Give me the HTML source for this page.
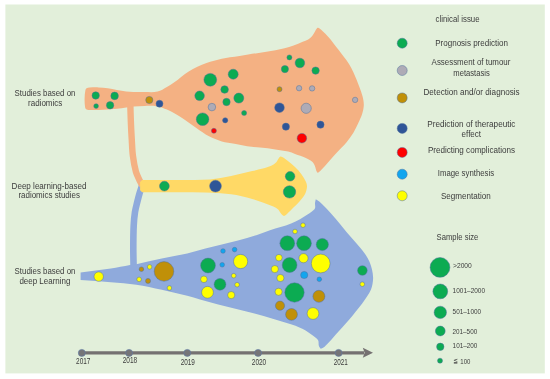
<!DOCTYPE html>
<html><head><meta charset="utf-8"><title>Radiomics and deep learning studies timeline</title>
<style>html,body{margin:0;padding:0;background:#fff}svg{display:block}text{font-family:"Liberation Sans","DejaVu Sans",sans-serif;fill:#3c3c3c}</style></head><body>
<svg width="550" height="379" viewBox="0 0 550 379">
<rect width="550" height="379" fill="#fff"/>
<rect x="5.4" y="4.5" width="539.4" height="368.9" fill="#e2efda"/>
<path d="M142.2,185.0C141.3,187.8 140.3,190.7 139.5,193.5C138.7,196.3 138.0,199.1 137.3,201.9C136.5,205.2 135.5,208.6 135.0,212.0C134.3,216.5 133.9,221.1 133.7,225.6C133.3,233.4 133.3,241.5 133.3,249.4C133.3,255.2 133.5,261.2 133.6,267.0" fill="none" stroke="#8faadc" stroke-width="6.6"/>
<path d="M130.3,104.0C130.5,110.9 130.7,118.1 131.0,125.0C131.2,130.0 131.5,135.1 131.8,140.0C132.1,145.2 132.2,150.6 132.9,155.8C133.6,161.1 134.5,166.5 135.9,171.7C136.6,174.4 138.0,177.0 139.2,179.6C140.1,181.6 141.3,183.6 142.3,185.5" fill="none" stroke="#f4b183" stroke-width="6.4"/>
<path d="M85.4,90.2C85.5,89.5 85.9,88.6 86.5,88.2C87.4,87.7 88.5,87.7 89.5,87.6C92.5,87.4 95.5,87.3 98.5,87.4C101.5,87.5 104.7,87.9 107.7,88.3C113.8,89.2 120.0,90.9 126.2,91.5C132.3,92.1 138.6,92.0 144.7,92.0C149.0,92.0 153.4,92.5 157.6,91.5C160.9,90.7 163.9,88.6 166.9,86.9C169.4,85.5 172.0,84.0 174.3,82.3C179.2,78.8 183.6,74.5 188.7,71.4C194.3,68.1 200.4,65.3 206.5,63.0C211.4,61.1 216.7,59.9 221.8,58.7C224.5,58.1 227.3,57.7 230.0,57.3C233.2,56.8 236.4,56.4 239.6,55.9C242.4,55.5 245.4,54.9 248.2,54.5C254.2,53.6 260.4,52.8 266.4,51.8C272.4,50.8 278.6,49.6 284.5,48.2C287.6,47.5 290.6,46.5 293.6,45.5C296.7,44.4 299.7,43.0 302.7,41.8C304.5,41.1 306.5,40.6 308.2,39.6C309.6,38.8 310.9,37.6 312.0,36.3C313.2,34.9 314.0,33.1 315.0,31.5C315.6,30.6 315.9,29.5 316.6,28.7C317.0,28.3 317.4,27.7 318.0,27.7C318.6,27.7 319.1,28.2 319.6,28.6C320.7,29.4 321.7,30.4 322.7,31.3C324.5,33.0 326.3,34.8 327.9,36.6C329.7,38.6 331.5,40.8 333.2,42.9C335.0,45.1 336.8,47.5 338.5,49.8C340.2,52.1 342.1,54.4 343.8,56.7C345.6,59.1 347.5,61.5 349.0,64.0C350.7,66.8 352.2,69.8 353.6,72.8C355.6,77.2 357.5,81.9 359.2,86.5C360.4,89.8 361.8,93.1 362.6,96.5C363.3,99.2 363.9,102.2 363.8,105.0C363.7,107.9 363.1,110.9 362.2,113.7C361.2,117.0 359.6,120.1 358.2,123.2C356.7,126.4 355.2,129.7 353.4,132.7C351.4,136.0 349.0,139.2 346.6,142.2C345.0,144.2 343.0,146.1 341.2,148.0C339.0,150.3 336.7,152.6 334.6,155.0C332.4,157.5 330.2,160.1 328.0,162.6C325.9,165.0 323.6,167.5 321.4,169.8C320.7,170.6 319.8,171.3 319.0,171.9C318.6,172.2 318.2,172.8 317.7,172.7C317.2,172.6 316.9,172.0 316.7,171.6C316.4,171.1 316.2,170.4 316.0,169.8C315.6,168.5 315.4,167.0 314.8,165.7C314.1,164.3 313.3,162.8 312.2,161.8C310.7,160.4 308.7,159.4 306.9,158.5C304.8,157.4 302.5,156.6 300.3,155.8C298.6,155.1 296.8,154.5 295.0,153.9C292.8,153.1 290.5,152.1 288.2,151.6C284.0,150.6 279.6,150.0 275.4,149.4C270.3,148.7 265.1,148.2 260.0,147.6C255.8,147.1 251.4,146.9 247.2,146.3C243.0,145.7 238.7,144.6 234.5,143.8C230.3,143.0 225.9,142.6 221.8,141.4C217.4,140.1 213.0,138.4 209.0,136.3C204.6,134.0 200.4,130.8 196.3,128.0C192.1,125.1 187.9,121.9 183.6,119.1C180.6,117.1 177.4,115.1 174.3,113.3C171.9,112.0 169.4,110.6 166.9,109.6C163.9,108.4 160.8,106.9 157.6,106.4C153.4,105.7 149.0,105.9 144.7,105.9C141.0,105.9 137.3,106.1 133.6,106.4C131.1,106.6 128.6,107.1 126.2,107.4C123.2,107.8 120.1,108.4 117.0,108.7C110.9,109.3 104.6,109.7 98.5,110.0C95.4,110.1 92.1,110.1 89.0,109.9C88.0,109.8 86.9,109.8 86.1,109.2C85.5,108.8 85.2,107.9 85.1,107.2C84.7,104.4 84.5,101.4 84.6,98.5C84.6,95.7 84.9,92.9 85.4,90.2Z" fill="#f4b183"/>
<path d="M80.6,272.4C90.6,271.1 100.9,270.1 110.9,268.6C117.2,267.7 123.7,266.2 130.0,265.1C132.1,264.7 134.2,264.6 136.3,264.2C144.7,262.5 153.4,260.4 161.8,258.6C170.2,256.8 178.9,255.3 187.2,253.4C193.3,252.0 199.4,250.0 205.4,248.5C210.8,247.1 216.4,245.8 221.8,244.5C227.1,243.2 232.7,241.9 238.0,240.5C244.1,238.9 250.3,237.1 256.3,235.2C260.9,233.7 265.5,231.8 270.0,230.3C273.5,229.1 277.1,228.1 280.6,227.0C284.1,225.9 287.7,224.8 291.1,223.4C294.1,222.2 297.1,220.8 300.0,219.3C302.2,218.1 304.2,216.7 306.3,215.3C308.2,214.1 310.2,212.8 311.9,211.4C313.0,210.5 314.5,209.6 315.0,208.2C315.6,206.6 314.8,204.7 315.0,203.0C315.1,201.7 315.5,200.5 315.8,199.2C317.1,200.0 318.5,200.7 319.6,201.7C321.9,203.7 324.1,206.1 326.2,208.3C328.1,210.2 329.9,212.3 331.7,214.3C334.3,217.3 337.0,220.4 339.6,223.5C341.9,226.3 344.2,229.2 346.5,232.0C348.8,234.7 351.2,237.4 353.5,240.0C355.7,242.5 357.9,245.0 360.0,247.5C361.9,249.8 363.9,252.2 365.6,254.7C367.1,257.0 368.5,259.5 369.6,262.0C370.6,264.4 371.4,267.0 372.0,269.6C372.6,272.2 373.0,274.9 373.1,277.5C373.2,279.7 372.9,281.9 372.5,284.0C372.2,285.9 371.7,287.8 371.0,289.5C370.1,291.7 368.8,293.8 367.5,295.8C365.8,298.5 363.9,301.2 362.0,303.7C360.0,306.4 357.7,309.1 355.6,311.7C353.5,314.3 351.5,317.1 349.3,319.6C347.0,322.3 344.5,324.9 342.2,327.5C340.1,329.8 337.9,332.2 335.8,334.6C334.2,336.4 332.7,338.3 331.1,340.0C328.9,342.4 326.7,344.9 324.3,347.0C323.3,347.8 322.0,348.2 320.8,348.8C320.2,347.9 319.2,347.1 318.9,346.0C318.3,344.2 319.0,342.0 318.1,340.3C317.1,338.5 315.1,337.3 313.5,336.0C311.0,334.1 308.3,332.3 305.6,330.6C303.8,329.5 301.9,328.5 300.0,327.7C297.1,326.4 293.9,325.3 290.9,324.3C284.9,322.4 278.7,320.6 272.7,318.8C266.7,317.0 260.5,315.2 254.5,313.6C248.6,312.0 242.4,310.6 236.4,309.1C230.4,307.6 224.2,306.1 218.2,304.5C212.2,302.9 206.0,301.3 200.0,299.6C195.8,298.4 191.5,296.9 187.2,295.8C178.9,293.7 170.2,291.6 161.8,289.8C153.4,288.0 144.8,286.0 136.3,284.7C128.0,283.5 119.3,282.9 110.9,282.2C100.9,281.4 90.6,280.8 80.6,280.1C80.6,277.6 80.6,274.9 80.6,272.4Z" fill="#8faadc"/>
<path d="M140.1,182.0C140.1,184.7 140.1,187.6 140.1,190.3C140.8,191.0 141.4,191.6 142.1,192.3C154.6,192.3 167.5,192.3 180.0,192.3C188.2,192.4 196.8,192.3 205.0,192.5C210.2,192.6 215.5,192.8 220.6,193.2C224.1,193.4 227.7,193.8 231.1,194.3C234.6,194.8 238.2,195.4 241.7,196.2C245.2,197.0 248.8,198.0 252.2,199.0C255.7,200.0 259.3,201.2 262.8,202.4C266.3,203.6 269.9,204.9 273.3,206.5C275.0,207.3 276.8,208.3 278.2,209.6C279.2,210.5 279.7,212.0 280.6,213.0C281.6,214.1 282.5,215.9 284.0,215.9C285.6,215.9 286.7,214.1 287.9,213.0C289.7,211.4 291.5,209.5 293.2,207.8C295.3,205.7 297.6,203.7 299.5,201.5C301.4,199.3 303.5,197.2 304.8,194.6C306.0,192.2 306.8,189.5 307.0,186.8C307.1,185.0 306.5,183.2 305.8,181.6C304.7,179.1 303.2,176.6 301.6,174.4C299.7,171.8 297.4,169.3 295.0,167.0C292.3,164.4 289.3,162.0 286.3,159.8C284.6,158.5 282.8,156.9 280.7,156.6C279.8,156.5 279.2,157.8 278.6,158.6C277.8,159.6 277.4,161.0 276.5,161.9C274.9,163.4 273.2,164.8 271.2,165.8C268.6,167.1 265.6,167.8 262.8,168.6C259.3,169.6 255.7,170.3 252.2,171.1C248.7,171.9 245.2,172.7 241.7,173.5C238.2,174.3 234.6,175.2 231.1,176.0C227.6,176.8 224.1,177.5 220.6,178.1C217.1,178.7 213.5,179.3 210.0,179.5C205.1,179.8 199.9,179.8 195.0,179.9C177.5,179.9 159.6,180.0 142.1,180.0C141.4,180.7 140.8,181.3 140.1,182.0Z" fill="#ffd966"/>
<path d="M81.8,352.9H364" stroke="#757171" stroke-width="3.3" fill="none"/>
<path d="M362.8,347.8L373,352.8L362.8,357.8L364.6,352.8Z" fill="#757171"/>
<circle cx="81.8" cy="352.9" r="3.5" fill="#767578" stroke="#5f7aa6" stroke-width="0.6"/>
<circle cx="129.1" cy="352.9" r="3.5" fill="#767578" stroke="#5f7aa6" stroke-width="0.6"/>
<circle cx="187.3" cy="352.9" r="3.5" fill="#767578" stroke="#5f7aa6" stroke-width="0.6"/>
<circle cx="258.1" cy="352.9" r="3.5" fill="#767578" stroke="#5f7aa6" stroke-width="0.6"/>
<circle cx="338.6" cy="352.9" r="3.5" fill="#767578" stroke="#5f7aa6" stroke-width="0.6"/>
<g stroke="#4f6f9c" stroke-width="0.6" stroke-opacity="0.8">
<circle cx="95.7" cy="95.5" r="3.7" fill="#0cab52"/>
<circle cx="114.6" cy="95.9" r="3.8" fill="#0cab52"/>
<circle cx="96.1" cy="106.1" r="2.4" fill="#0cab52"/>
<circle cx="110.1" cy="105.3" r="3.7" fill="#0cab52"/>
<circle cx="149.3" cy="100" r="3.6" fill="#c09008"/>
<circle cx="159.5" cy="103.7" r="3.5" fill="#2f5597"/>
<circle cx="210.3" cy="79.8" r="6.4" fill="#0cab52"/>
<circle cx="233.2" cy="74.2" r="5" fill="#0cab52"/>
<circle cx="199.6" cy="95.8" r="4.8" fill="#0cab52"/>
<circle cx="224.6" cy="89.5" r="3.8" fill="#0cab52"/>
<circle cx="226.5" cy="102" r="3.7" fill="#0cab52"/>
<circle cx="238.8" cy="98.1" r="5" fill="#0cab52"/>
<circle cx="211.9" cy="107.1" r="3.8" fill="#aeabb6"/>
<circle cx="244.1" cy="113" r="2.5" fill="#0cab52"/>
<circle cx="202.6" cy="119.2" r="6.3" fill="#0cab52"/>
<circle cx="225.2" cy="120.3" r="2.6" fill="#2f5597"/>
<circle cx="213.9" cy="130.8" r="2.5" fill="#ff0000"/>
<circle cx="289.4" cy="57.4" r="2.5" fill="#0cab52"/>
<circle cx="299.9" cy="63" r="4.8" fill="#0cab52"/>
<circle cx="284.9" cy="69.1" r="3.6" fill="#0cab52"/>
<circle cx="315.6" cy="70.6" r="3.7" fill="#0cab52"/>
<circle cx="279.5" cy="89.2" r="2.5" fill="#c09008"/>
<circle cx="299.1" cy="88.2" r="2.7" fill="#aeabb6"/>
<circle cx="312.1" cy="88.4" r="2.7" fill="#aeabb6"/>
<circle cx="355.1" cy="99.9" r="2.7" fill="#aeabb6"/>
<circle cx="279.5" cy="107.7" r="4.8" fill="#2f5597"/>
<circle cx="306.2" cy="108.3" r="5.1" fill="#aeabb6"/>
<circle cx="285.9" cy="126.7" r="3.6" fill="#2f5597"/>
<circle cx="320.5" cy="124.7" r="3.6" fill="#2f5597"/>
<circle cx="301.9" cy="138.2" r="4.8" fill="#ff0000"/>
<circle cx="164.4" cy="186.1" r="4.9" fill="#0cab52"/>
<circle cx="215.5" cy="186.1" r="5.9" fill="#2f5597"/>
<circle cx="290.1" cy="176.3" r="4.8" fill="#0cab52"/>
<circle cx="289.5" cy="191.9" r="6.2" fill="#0cab52"/>
<circle cx="98.7" cy="276.6" r="4.7" fill="#ffff00"/>
<circle cx="141.4" cy="269.2" r="2.3" fill="#c09008"/>
<circle cx="149.6" cy="266.9" r="2.3" fill="#ffff00"/>
<circle cx="164" cy="271.4" r="9.8" fill="#c09008"/>
<circle cx="139.1" cy="279.4" r="2.3" fill="#ffff00"/>
<circle cx="148" cy="280.9" r="2.5" fill="#c09008"/>
<circle cx="169.4" cy="288" r="2.3" fill="#ffff00"/>
<circle cx="223" cy="251" r="2.3" fill="#12a5ee"/>
<circle cx="234.6" cy="249.6" r="2.3" fill="#12a5ee"/>
<circle cx="208" cy="265.5" r="7.4" fill="#0cab52"/>
<circle cx="222.2" cy="264.8" r="2.3" fill="#12a5ee"/>
<circle cx="240.6" cy="261.5" r="7.1" fill="#ffff00"/>
<circle cx="203.9" cy="279.3" r="3.3" fill="#ffff00"/>
<circle cx="233.7" cy="275.7" r="2.3" fill="#ffff00"/>
<circle cx="220" cy="284.3" r="5.9" fill="#0cab52"/>
<circle cx="237.1" cy="284.7" r="2.3" fill="#ffff00"/>
<circle cx="207.5" cy="292.3" r="5.9" fill="#ffff00"/>
<circle cx="231.2" cy="295.1" r="3.6" fill="#ffff00"/>
<circle cx="303" cy="225.2" r="2.3" fill="#ffff00"/>
<circle cx="295" cy="231.5" r="2.3" fill="#ffff00"/>
<circle cx="287.3" cy="243.2" r="7.4" fill="#0cab52"/>
<circle cx="304" cy="243.2" r="7.4" fill="#0cab52"/>
<circle cx="322.3" cy="244.5" r="6.1" fill="#0cab52"/>
<circle cx="278.9" cy="257.7" r="3.3" fill="#ffff00"/>
<circle cx="303.5" cy="258.2" r="4.6" fill="#ffff00"/>
<circle cx="289.6" cy="265" r="7.4" fill="#0cab52"/>
<circle cx="320.7" cy="263.5" r="9.4" fill="#ffff00"/>
<circle cx="274.8" cy="269.1" r="3.6" fill="#ffff00"/>
<circle cx="304.2" cy="275" r="3.6" fill="#12a5ee"/>
<circle cx="319.3" cy="279.3" r="2.3" fill="#12a5ee"/>
<circle cx="280.4" cy="278" r="3.6" fill="#ffff00"/>
<circle cx="278.6" cy="291.8" r="3.6" fill="#ffff00"/>
<circle cx="294.5" cy="292.5" r="9.7" fill="#0cab52"/>
<circle cx="318.9" cy="296.3" r="6" fill="#c09008"/>
<circle cx="280" cy="305.7" r="4.6" fill="#c09008"/>
<circle cx="291.5" cy="314.4" r="5.9" fill="#c09008"/>
<circle cx="313" cy="313.5" r="5.9" fill="#ffff00"/>
<circle cx="362.4" cy="270.5" r="4.8" fill="#0cab52"/>
<circle cx="362.3" cy="284.2" r="2.3" fill="#ffff00"/>
<circle cx="402.2" cy="43.2" r="5" fill="#0cab52"/>
<circle cx="402.2" cy="70.5" r="5" fill="#aeabb6"/>
<circle cx="402.2" cy="97.9" r="5" fill="#c09008"/>
<circle cx="402.2" cy="128.4" r="5" fill="#2f5597"/>
<circle cx="402.2" cy="152.4" r="5" fill="#ff0000"/>
<circle cx="402.2" cy="174.2" r="5" fill="#12a5ee"/>
<circle cx="402.2" cy="195.8" r="5" fill="#ffff00"/>
<circle cx="440" cy="267.4" r="9.9" fill="#0cab52"/>
<circle cx="440.3" cy="291.4" r="7.4" fill="#0cab52"/>
<circle cx="440.3" cy="312.4" r="6.2" fill="#0cab52"/>
<circle cx="440.3" cy="331" r="4.9" fill="#0cab52"/>
<circle cx="440.3" cy="346.8" r="3.7" fill="#0cab52"/>
<circle cx="440" cy="360.7" r="2.5" fill="#0cab52"/>
</g>
<text x="14.6" y="96" font-size="8.6" textLength="60.8" lengthAdjust="spacingAndGlyphs">Studies based on</text>
<text x="28" y="105.8" font-size="8.6" textLength="34.4" lengthAdjust="spacingAndGlyphs">radiomics</text>
<text x="11.6" y="188.6" font-size="8.6" textLength="74.8" lengthAdjust="spacingAndGlyphs">Deep learning-based</text>
<text x="18.4" y="198.4" font-size="8.6" textLength="61.6" lengthAdjust="spacingAndGlyphs">radiomics studies</text>
<text x="14.6" y="274.4" font-size="8.6" textLength="60.8" lengthAdjust="spacingAndGlyphs">Studies based on</text>
<text x="19.4" y="283.8" font-size="8.6" textLength="51.0" lengthAdjust="spacingAndGlyphs">deep Learning</text>
<text x="435.6" y="21.8" font-size="8.6" textLength="43.9" lengthAdjust="spacingAndGlyphs">clinical issue</text>
<text x="435.2" y="46.0" font-size="8.6" textLength="72.8" lengthAdjust="spacingAndGlyphs">Prognosis prediction</text>
<text x="431.6" y="65.2" font-size="8.6" textLength="78.8" lengthAdjust="spacingAndGlyphs">Assessment of tumour</text>
<text x="453.3" y="75.8" font-size="8.6" textLength="36.4" lengthAdjust="spacingAndGlyphs">metastasis</text>
<text x="423.5" y="94.9" font-size="8.6" textLength="96.1" lengthAdjust="spacingAndGlyphs">Detection and/or diagnosis</text>
<text x="427.3" y="126.7" font-size="8.6" textLength="88.1" lengthAdjust="spacingAndGlyphs">Prediction of therapeutic</text>
<text x="461.6" y="136.6" font-size="8.6" textLength="19.5" lengthAdjust="spacingAndGlyphs">effect</text>
<text x="427.9" y="153" font-size="8.6" textLength="87.2" lengthAdjust="spacingAndGlyphs">Predicting complications</text>
<text x="437.8" y="176" font-size="8.6" textLength="56.3" lengthAdjust="spacingAndGlyphs">Image synthesis</text>
<text x="440.9" y="198.5" font-size="8.6" textLength="49.8" lengthAdjust="spacingAndGlyphs">Segmentation</text>
<text x="436.6" y="239.6" font-size="8.6" textLength="41.7" lengthAdjust="spacingAndGlyphs">Sample size</text>
<text x="453" y="268.2" font-size="7.6" textLength="18.8" lengthAdjust="spacingAndGlyphs">&gt;2000</text>
<text x="452.6" y="293.1" font-size="7.6" textLength="32.5" lengthAdjust="spacingAndGlyphs">1001–2000</text>
<text x="452.6" y="313.9" font-size="7.6" textLength="28.5" lengthAdjust="spacingAndGlyphs">501–1000</text>
<text x="452.5" y="333.5" font-size="7.6" textLength="24.7" lengthAdjust="spacingAndGlyphs">201–500</text>
<text x="452.6" y="348.2" font-size="7.6" textLength="24.8" lengthAdjust="spacingAndGlyphs">101–200</text>
<text x="453.3" y="363.2" font-size="6.5" textLength="4.7" lengthAdjust="spacingAndGlyphs">≦</text>
<text x="460.3" y="363.6" font-size="7.6" textLength="10.0" lengthAdjust="spacingAndGlyphs">100</text>
<text x="76.1" y="364.4" font-size="8.2" textLength="14.3" lengthAdjust="spacingAndGlyphs">2017</text>
<text x="122.7" y="363.2" font-size="8.2" textLength="14.5" lengthAdjust="spacingAndGlyphs">2018</text>
<text x="180.7" y="364.8" font-size="8.2" textLength="14.2" lengthAdjust="spacingAndGlyphs">2019</text>
<text x="251.8" y="364.8" font-size="8.2" textLength="14.4" lengthAdjust="spacingAndGlyphs">2020</text>
<text x="333.7" y="364.7" font-size="8.2" textLength="14.1" lengthAdjust="spacingAndGlyphs">2021</text>
</svg></body></html>
